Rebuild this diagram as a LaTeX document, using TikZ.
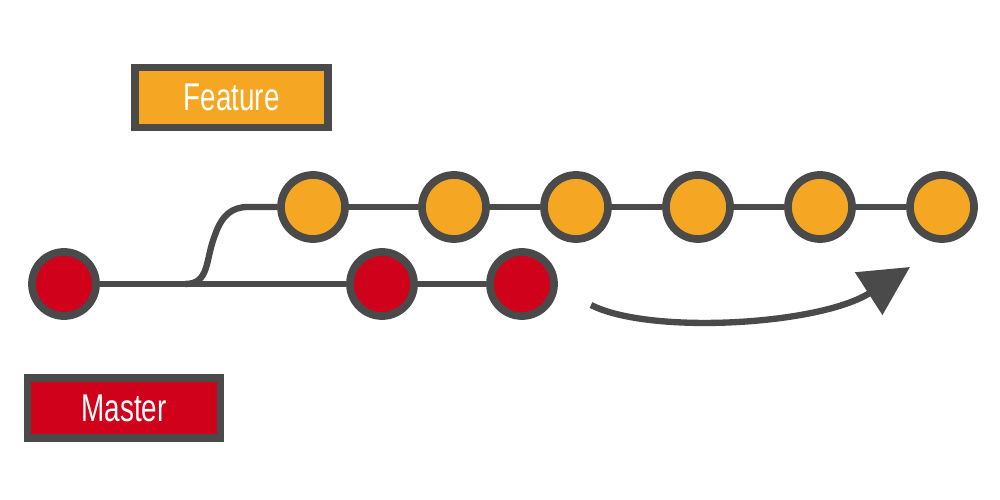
\documentclass[tikz,border=0pt]{standalone}
\usepackage{fontspec}
\newfontfamily\lbl[FakeStretch=0.72]{Liberation Sans}
\usetikzlibrary{arrows.meta}
\definecolor{gr}{HTML}{4A4A4A}
\definecolor{og}{HTML}{F5A623}
\definecolor{rd}{HTML}{D0021B}
\tikzset{
 commit/.style={circle,draw=gr,line width=2.2pt,minimum size=0.64cm,inner sep=0pt},
 oc/.style={commit,fill=og},
 rc/.style={commit,fill=rd},
 lab/.style={draw=gr,line width=2.2pt,minimum width=1.93cm,minimum height=0.6cm,text=white,font=\lbl\fontsize{11}{13}\selectfont},
 ln/.style={draw=gr,line width=1.8pt}
}
\begin{document}
\begin{tikzpicture}[x=0.01cm,y=0.01cm]
\useasboundingbox[fill=white] (0,0) rectangle (1000,500);
\node[lab,fill=og] (feat) at (231.5,402.5) {Feature};
\node[lab,fill=rd] (mast) at (124,92) {Master};
\node[rc] (r1) at (64,216) {};
\node[rc] (r2) at (382,216) {};
\node[rc] (r3) at (522,216) {};
\node[oc] (o1) at (313,293) {};
\node[oc] (o2) at (454,293) {};
\node[oc] (o3) at (576,293) {};
\node[oc] (o4) at (698,293) {};
\node[oc] (o5) at (820,293) {};
\node[oc] (o6) at (942,293) {};
\coordinate (br) at (185,216);
\coordinate (bt) at (248,293);
\begin{scope}[on background layer/.try]
\end{scope}
\draw[ln] (r1) -- (r2);
\draw[ln] (r2) -- (r3);
\draw[ln] (br) .. controls (210,216) and (205,240) .. (215,265) .. controls (222,285) and (232,293) .. (bt) -- (o1);
\draw[ln] (o1) -- (o2); \draw[ln] (o2) -- (o3); \draw[ln] (o3) -- (o4);
\draw[ln] (o4) -- (o5); \draw[ln] (o5) -- (o6);
\coordinate (as) at (591,195);
\coordinate (ae) at (910,233);
\draw[ln,-{Triangle[length=14pt,width=14pt]}] (as) .. controls (650,165) and (820,175) .. (ae);
\end{tikzpicture}
\end{document}
